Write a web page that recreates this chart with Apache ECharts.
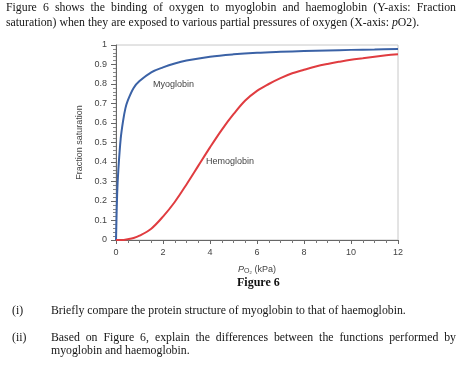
<!DOCTYPE html>
<html>
<head>
<meta charset="utf-8">
<script src="https://cdn.jsdelivr.net/npm/echarts@6/dist/echarts.min.js"></script>
<style>
html,body{margin:0;padding:0;background:#fff;}
#c{width:474px;height:367px;}
</style>
</head>
<body>
<div id="c"></div>
<script>
// Data
var myoX = [0, 0.05, 0.1, 0.2, 0.3, 0.4, 0.5, 0.75, 1, 1.5, 2, 2.5, 3, 4, 5, 6, 7, 8, 9, 10, 11, 12];
var myoY = [0, 0.24, 0.36, 0.52, 0.61, 0.675, 0.715, 0.78, 0.815, 0.86, 0.885, 0.905, 0.92, 0.94, 0.952, 0.96, 0.965, 0.969, 0.972, 0.975, 0.977, 0.979];
var hemoX = [0, 0.25, 0.5, 0.75, 1, 1.5, 2, 2.5, 3, 3.5, 4, 4.5, 5, 5.5, 6, 6.5, 7, 7.5, 8, 8.5, 9, 9.5, 10, 10.5, 11, 11.5, 12];
var hemoY = [0, 0, 0.004, 0.01, 0.022, 0.058, 0.12, 0.195, 0.285, 0.38, 0.475, 0.565, 0.645, 0.715, 0.765, 0.80, 0.83, 0.855, 0.873, 0.89, 0.903, 0.914, 0.924, 0.932, 0.94, 0.947, 0.953];
var xTicks = [0, 2, 4, 6, 8, 10, 12];
var yTicks = [0, 0.1, 0.2, 0.3, 0.4, 0.5, 0.6, 0.7, 0.8, 0.9, 1];
var seriesNames = ['Myoglobin', 'Hemoglobin'];
var introLine1 = 'Figure 6 shows the binding of oxygen to myoglobin and haemoglobin (Y-axis: Fraction';
var introLine2 = 'saturation) when they are exposed to various partial pressures of oxygen (X-axis: ';
var q1 = 'Briefly compare the protein structure of myoglobin to that of haemoglobin.';
var q2a = 'Based on Figure 6, explain the differences between the functions performed by';
var q2b = 'myoglobin and haemoglobin.';

function pairs(xs, ys){ return xs.map(function(x,i){ return [x, ys[i]]; }); }

var serif = '"Liberation Serif", "Times New Roman", serif';
var sans = '"Liberation Sans", Arial, sans-serif';
var bodyFont = '11.8px ' + serif;

// justify a line of text between x0 and x1 by spreading its words
var mctx = document.createElement('canvas').getContext('2d');
function justify(text, x0, x1, top, font){
  mctx.font = font;
  var words = text.split(' ');
  var widths = words.map(function(w){ return mctx.measureText(w).width; });
  var total = widths.reduce(function(a,b){ return a+b; }, 0);
  var gap = (x1 - x0 - total) / (words.length - 1);
  var x = x0, out = [];
  words.forEach(function(w, i){
    out.push({type:'text', left: Math.round(x*10)/10, top: top, style:{text: w, font: font, fill:'#161616'}});
    x += widths[i] + gap;
  });
  return out;
}

var graphics = [
  {type: 'text', left: 153, top: 80, style: {text: seriesNames[0], font: '9px ' + sans, fill: '#444'}},
  {type: 'text', left: 206, top: 157, style: {text: seriesNames[1], font: '9px ' + sans, fill: '#444'}},
  {type: 'text', left: 6, top: 17, style: {text: '{n|' + introLine2 + '}{i|p}{n|O2).}', font: bodyFont, fill: '#161616',
    rich: {n: {font: bodyFont, fill: '#161616'}, i: {font: 'italic ' + bodyFont, fill: '#161616'}}}},
  {type: 'text', left: 237, top: 277, style: {text: 'Figure 6', font: 'bold 12px ' + serif, fill: '#111'}},
  {type: 'text', left: 12, top: 305, style: {text: '(i)', font: bodyFont, fill: '#161616'}},
  {type: 'text', left: 51, top: 305, style: {text: q1, font: bodyFont, fill: '#161616'}},
  {type: 'text', left: 12, top: 332, style: {text: '(ii)', font: bodyFont, fill: '#161616'}},
  {type: 'text', left: 51, top: 345, style: {text: q2b, font: bodyFont, fill: '#161616'}}
].concat(justify(introLine1, 6, 456, 2, bodyFont)).concat(justify(q2a, 51, 456, 332, bodyFont));

var chart = echarts.init(document.getElementById('c'), null, {renderer:'canvas'});
chart.setOption({
  animation: false,
  backgroundColor: '#fff',
  grid: {left: 116, right: 76, top: 45, bottom: 127, show: true, borderColor: '#c8c8c8', borderWidth: 1},
  xAxis: {
    type: 'value', min: 0, max: 12, interval: 2,
    name: '{p|P}{s|O₂} (kPa)', nameLocation: 'middle', nameGap: 24,
    nameTextStyle: {fontFamily: sans, fontSize: 9, color: '#444',
      rich: {p: {fontStyle: 'italic', fontFamily: sans, fontSize: 9, color:'#444'}, s: {fontFamily: sans, fontSize: 7, color:'#444', padding:[4,0,0,0]}}},
    axisLine: {lineStyle: {color: '#666', width: 1}},
    axisTick: {show: true, length: 4, lineStyle: {color: '#666'}},
    minorTick: {show: true, splitNumber: 4, length: 3, lineStyle: {color: '#777'}},
    splitLine: {show: false},
    axisLabel: {fontFamily: sans, fontSize: 9, color: '#444', margin: 8,
      formatter: function(v){ return xTicks.indexOf(v) >= 0 ? String(v) : ''; }}
  },
  yAxis: {
    type: 'value', min: 0, max: 1, interval: 0.1,
    name: 'Fraction saturation', nameLocation: 'middle', nameGap: 28,
    nameTextStyle: {fontFamily: sans, fontSize: 9, color: '#444'},
    axisLine: {show: true, lineStyle: {color: '#666', width: 1}},
    axisTick: {show: true, length: 5, lineStyle: {color: '#666'}},
    minorTick: {show: true, splitNumber: 5, length: 3, lineStyle: {color: '#888'}},
    splitLine: {show: false},
    axisLabel: {fontFamily: sans, fontSize: 9, color: '#444', margin: 9,
      formatter: function(v){ var r = Math.round(v*10)/10; return yTicks.indexOf(r) >= 0 ? String(r) : ''; }}
  },
  series: [
    {name: seriesNames[0], type: 'line', data: pairs(myoX, myoY), smooth: 0.35, symbol: 'none',
     lineStyle: {color: '#3b62a6', width: 2}},
    {name: seriesNames[1], type: 'line', data: pairs(hemoX, hemoY), smooth: 0.35, symbol: 'none',
     lineStyle: {color: '#e03c40', width: 2}}
  ],
  graphic: graphics
});
</script>
</body>
</html>
